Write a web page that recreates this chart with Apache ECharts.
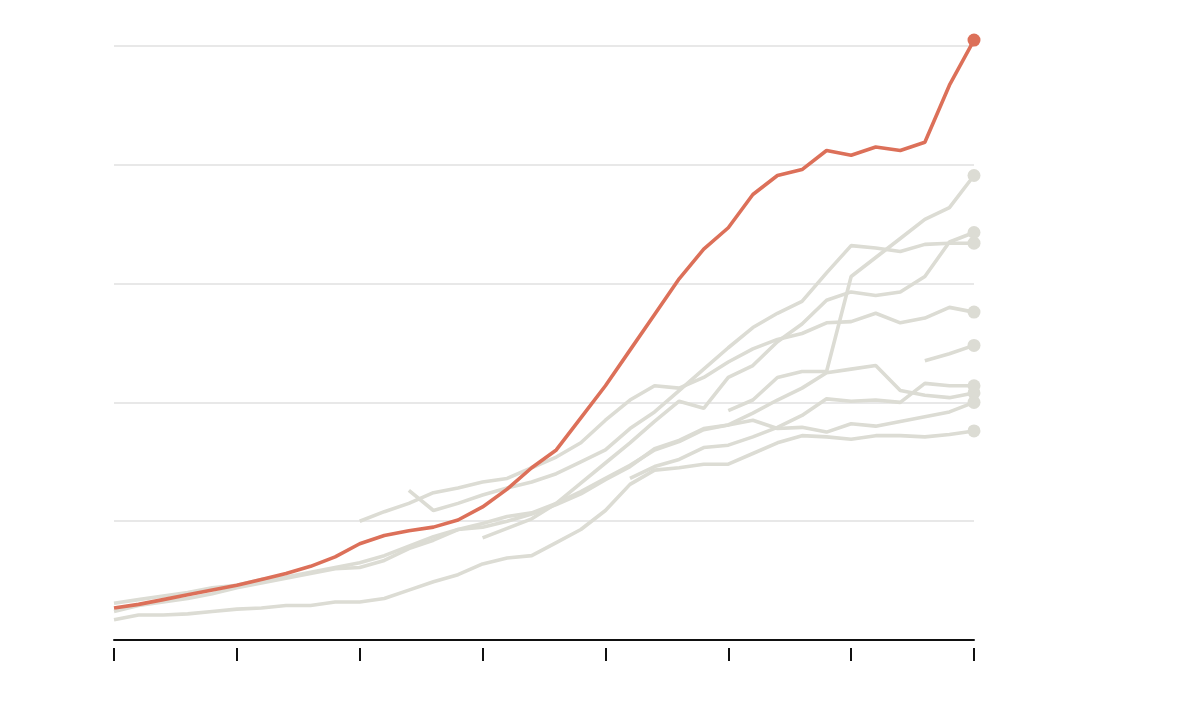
<!DOCTYPE html>
<html>
<head>
<meta charset="utf-8">
<script src="https://cdn.jsdelivr.net/npm/echarts@6/dist/echarts.min.js"></script>
<style>
  html, body { margin: 0; padding: 0; background: #fff; }
  #chart { width: 1200px; height: 720px; }
</style>
</head>
<body>
<div id="chart"></div>
<script>
  // 36 yearly points, ticks every 5 years
  const years = [];
  for (let y = 1985; y <= 2020; y++) years.push(String(y));

  const highlight = [2.7, 3.0, 3.4, 3.8, 4.2, 4.6, 5.1, 5.6, 6.2, 7.0, 8.1, 8.8, 9.2, 9.5, 10.1, 11.2, 12.7, 14.5,
    16.0, 18.7, 21.4, 24.4, 27.4, 30.4, 32.9, 34.7, 37.5, 39.1, 39.6, 41.2, 40.8, 41.5, 41.2, 41.9, 46.7, 50.5];

  const g1 = [1.7, 2.1, 2.1, 2.2, 2.4, 2.6, 2.7, 2.9, 2.9, 3.2, 3.2, 3.5, 4.2, 4.9, 5.5, 6.4, 6.9, 7.1,
    8.2, 9.3, 10.9, 13.1, 14.3, 14.5, 14.8, 14.8, 15.7, 16.6, 17.2, 17.1, 16.9, 17.2, 17.2, 17.1, 17.3, 17.6];
  const g2 = [3.1, 3.4, 3.7, 4.0, 4.4, 4.6, 5.1, 5.3, 5.7, 6.1, 6.5, 7.1, 7.9, 8.7, 9.3, 9.8, 10.4, 10.7,
    11.5, 12.5, 13.6, 14.7, 16.0, 16.7, 17.7, 18.1, 19.1, 20.2, 21.2, 22.5, 22.8, 23.1, 21.0, 20.6, 20.4, 20.8];
  const g3 = [2.4, 2.9, 3.2, 3.5, 3.9, 4.4, 4.8, 5.2, 5.6, 6.0, 6.1, 6.7, 7.7, 8.4, 9.3, 9.5, 10.0, 10.6,
    11.4, 12.3, 13.5, 14.6, 16.1, 16.8, 17.8, 18.1, 18.5, 17.8, 17.9, 17.5, 18.2, 18.0, 18.4, 18.8, 19.2, 20.0];
  const g4 = [null, null, null, null, null, null, null, null, null, null,
    10.0, 10.8, 11.5, 12.4, 12.8, 13.3, 13.6, 14.5, 15.4, 16.6, 18.5, 20.2, 21.4, 21.2, 22.1, 23.4,
    24.5, 25.3, 25.8, 26.7, 26.8, 27.5, 26.7, 27.1, 28.0, 27.6];
  const g5 = [null, null, null, null, null, null, null, null, null, null, null, null,
    12.6, 10.9, 11.5, 12.2, 12.8, 13.3, 14.0, 15.0, 16.0, 17.8, 19.2, 21.0, 22.8, 24.6, 26.3, 27.5,
    28.5, 30.9, 33.2, 33.0, 32.7, 33.3, 33.4, 33.4];
  const g6 = [null, null, null, null, null, null, null, null, null, null, null, null, null, null, null,
    8.6, 9.4, 10.2, 11.5, 13.2, 14.9, 16.6, 18.4, 20.1, 19.5, 22.1, 23.1, 25.1, 26.6, 28.6, 29.3,
    29.0, 29.3, 30.6, 33.5, 34.3];
  const g7 = [null, null, null, null, null, null, null, null, null, null, null, null, null, null, null,
    null, null, null, null, null, null,
    13.6, 14.6, 15.2, 16.2, 16.4, 17.1, 17.9, 18.9, 20.3, 20.1, 20.2, 20.0, 21.6, 21.4, 21.4];
  const g8 = [null, null, null, null, null, null, null, null, null, null, null, null, null, null, null,
    null, null, null, null, null, null, null, null, null, null,
    19.3, 20.2, 22.1, 22.6, 22.6, 30.6, 32.2, 33.8, 35.4, 36.4, 39.1];
  const g9 = [null, null, null, null, null, null, null, null, null, null, null, null, null, null, null,
    null, null, null, null, null, null, null, null, null, null, null, null, null, null, null, null,
    null, null, 23.5, 24.1, 24.8];

  const others = [g1, g2, g3, g4, g5, g6, g7, g8, g9];

  const GRAY = '#dcdcd4';
  const RED = '#dc7059';
  const last = years.length - 1;

  function lineSeries(data, color, z) {
    return {
      type: 'line',
      data: data,
      z: z,
      clip: false,
      silent: true,
      showSymbol: true,
      showAllSymbol: true,
      symbol: 'circle',
      symbolSize: function (v, p) { return p.dataIndex === last ? 13 : 0; },
      itemStyle: { color: color },
      lineStyle: { color: color, width: 3.6 },
      emphasis: { disabled: true },
      animation: false
    };
  }

  const chart = echarts.init(document.getElementById('chart'));
  const series = others.map(d => lineSeries(d, GRAY, 2));
  series.push(lineSeries(highlight, RED, 5));

  chart.setOption({
    animation: false,
    grid: { left: 114, right: 226, top: 46, bottom: 80 },
    xAxis: [{
      type: 'category',
      data: years,
      boundaryGap: false,
      axisLine: { lineStyle: { color: '#111', width: 2 } },
      axisTick: { show: false },
      axisLabel: { show: false }
    }, {
      type: 'category',
      data: years,
      boundaryGap: false,
      position: 'bottom',
      offset: 8,
      axisLine: { show: false },
      axisTick: { show: true, interval: 4, length: 13, lineStyle: { color: '#111', width: 2 } },
      axisLabel: { show: false }
    }],
    yAxis: {
      type: 'value',
      min: 0,
      max: 50,
      interval: 10,
      axisLine: { show: false },
      axisTick: { show: false },
      axisLabel: { show: false },
      splitLine: { lineStyle: { color: '#e0e0e0', width: 1.6 } }
    },
    series: series
  });
</script>
</body>
</html>
